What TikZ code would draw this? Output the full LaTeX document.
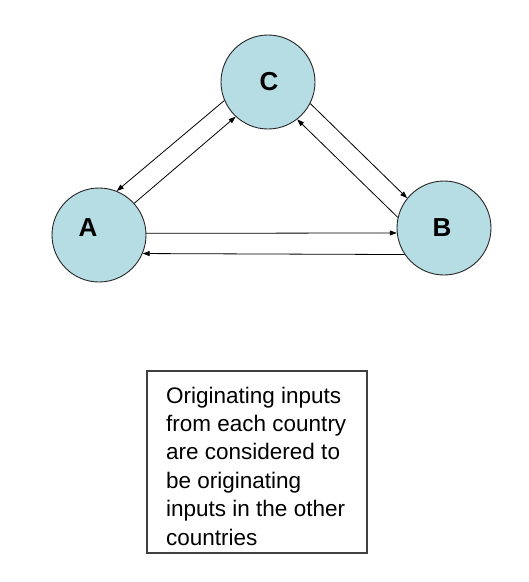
\documentclass[tikz,border=0pt]{standalone}
\usepackage{fontspec}
\setmainfont{Liberation Sans}
\usetikzlibrary{arrows.meta}
\definecolor{nodefill}{RGB}{183,221,228}
\definecolor{boxline}{RGB}{64,64,64}
\begin{document}
\begin{tikzpicture}[x=1pt,y=-1pt,
  country/.style={circle,draw=black!85,line width=0.9pt,fill=nodefill,minimum size=94pt,inner sep=0pt},
  letter/.style={font=\fontsize{26}{30}\selectfont\bfseries,inner sep=0pt},
  flow/.style={line width=0.8pt,-{Triangle[length=7pt,width=5pt]}},
  framebox/.style={draw=boxline,line width=1.4pt,minimum width=220pt,minimum height=182pt,inner sep=0pt},
  note/.style={font=\fontsize{22.5}{28.4}\selectfont,align=left,inner sep=0pt,anchor=north west}]
\useasboundingbox (0,0) rectangle (529,582);
\node[country] (C) at (268,82) {};
\node[country] (A) at (99,235) {};
\node[country] (B) at (444,228) {};
\node[letter] (Clab) at (269,82) {C};
\node[letter] (Alab) at (88,228) {A};
\node[letter] (Blab) at (442,228) {B};
\draw[flow] (A.2) -- (B.186);
\draw[flow] (B.214) -- (A.-23);
\draw[flow] (C.203) -- (A.68);
\draw[flow] (A.42) -- (C.227);
\draw[flow] (C.-27) -- (B.141);
\draw[flow] (B.167) -- (C.-52);
\node[framebox] (box) at (257,462) {};
\node[note] (txt) at (166,386.5) {Originating inputs\\from each country\\are considered to\\be originating\\inputs in the other\\countries};
\end{tikzpicture}
\end{document}
